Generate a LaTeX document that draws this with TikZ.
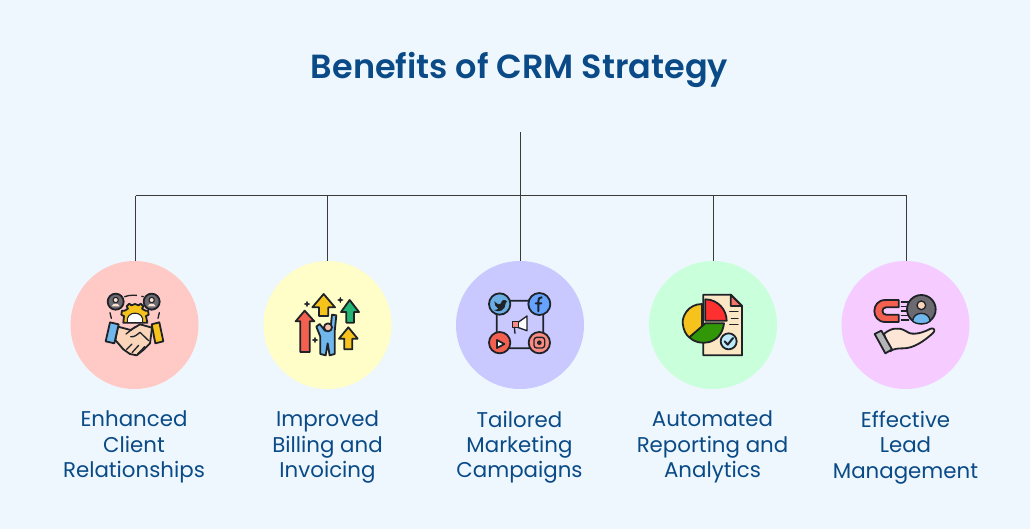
\documentclass[tikz,border=0pt]{standalone}
\usepackage{fontspec}
\setmainfont{Poppins}
\usetikzlibrary{calc}
\definecolor{bgc}{HTML}{EEF7FE}
\definecolor{titlec}{HTML}{0A4A86}
\definecolor{linec}{HTML}{3A3A3A}
\definecolor{ink}{HTML}{1F2328}
\definecolor{cA}{HTML}{FFC9C5}
\definecolor{cB}{HTML}{FFFDC8}
\definecolor{cC}{HTML}{C9C8FF}
\definecolor{cD}{HTML}{C9FFDB}
\definecolor{cE}{HTML}{F6CBFF}
\definecolor{yel}{HTML}{F6C21C}
\definecolor{red1}{HTML}{F4604F}
\definecolor{grn}{HTML}{22B573}
\definecolor{blu}{HTML}{6FB7EC}
\definecolor{peach}{HTML}{FBD5BA}
\definecolor{gry}{HTML}{6C6A70}
\tikzset{
  disc/.style={circle,minimum size=96pt,inner sep=0pt,draw=none},
  lbl/.style={align=center,text=titlec,font=\fontsize{16pt}{19.1pt}\selectfont,anchor=north,inner sep=0pt},
  conn/.style={draw=linec,line width=0.8pt},
  ic/.style={draw=ink,line width=1.35pt,line join=round,line cap=round},
  icon/.style={shift={(#1)},x=0.25pt,y=-0.25pt}
}
\begin{document}
\begin{tikzpicture}[x=0.75pt,y=-0.75pt]
\fill[bgc] (0,0) rectangle (1030,529);
\useasboundingbox (0,0) rectangle (1030,529);
\node[text=titlec,font=\fontsize{25.1pt}{30pt}\selectfont\fontspec{Poppins SemiBold},inner sep=0pt] (title) at (519.5,69.5) {Benefits of CRM Strategy};
\node[disc,fill=cA] (a) at (134.5,325) {};
\node[disc,fill=cB] (b) at (327.5,325) {};
\node[disc,fill=cC] (c) at (520,325) {};
\node[disc,fill=cD] (d) at (713,325) {};
\node[disc,fill=cE] (e) at (905.5,325) {};
\coordinate (top) at (520.5,132);
\coordinate (hub) at (520.5,195.5);
\coordinate (ha) at (135.5,195.5);
\coordinate (hb) at (327.5,195.5);
\coordinate (hd) at (713.5,195.5);
\coordinate (he) at (906.5,195.5);
\draw[conn] (top) -- (hub);
\draw[conn] (ha) -- (he);
\draw[conn] (ha) -- (ha |- a.north);
\draw[conn] (hb) -- (b.north);
\draw[conn] (hub) -- (hub |- c.north);
\draw[conn] (hd) -- (hd |- d.north);
\draw[conn] (he) -- (he |- e.north);
\node[lbl] (la) at (134,410.5) {Enhanced\\Client\\Relationships};
\node[lbl] (lb) at (327.5,410.5) {Improved\\Billing and\\Invoicing};
\node[lbl] (lc) at (519.5,410.5) {Tailored\\Marketing\\Campaigns};
\node[lbl] (ld) at (712.5,410.5) {Automated\\Reporting and\\Analytics};
\node[lbl] (le) at (905.5,410.5) {Effective\\Lead\\Management};
% icon 1: handshake
\begin{scope}[icon={90,280}]
\draw[ic,dash pattern=on 9pt off 4pt,line width=1pt] (104,50) .. controls (120,44) and (140,44) .. (160,50);
\draw[ic,line width=1pt] (60,98) -- (64,115) (208,98) -- (204,115);
\foreach \cx in {77,185}{
  \draw[ic,fill=gry] (\cx,65) circle (24);
  \fill[peach!70!white] (\cx,60) circle (8);
  \fill[peach!70!white] (\cx-12,79) .. controls (\cx-8,68) and (\cx+8,68) .. (\cx+12,79) -- cycle;
  \draw[ic,line width=0.8pt] (\cx,60) circle (8);
}
\draw[ic,fill=yel] (135,72) -- (146,76) -- (152,71) -- (160,79) -- (156,86) -- (166,92) -- (174,92) -- (176,104) -- (168,108) -- (172,128) -- (100,128) -- (102,108) -- (94,104) -- (96,92) -- (104,92) -- (114,86) -- (110,79) -- (118,71) -- (124,76) -- cycle;
\fill[white,draw=ink,line width=0.8pt] (112,128) .. controls (104,90) and (166,90) .. (158,128) -- cycle;
\draw[ic,fill=peach] (84,140) -- (122,150) -- (150,133) -- (186,143) -- (180,190) -- (160,210) -- (140,226) -- (120,222) -- (100,208) -- (76,180) -- cycle;
\draw[ic,line width=1pt] (108,162) -- (136,140) (122,170) .. controls (132,172) and (140,165) .. (150,157) -- (176,182) (110,208) -- (126,192) (126,218) -- (146,196) (143,222) -- (164,200);
\draw[ic,fill=blu] (60,127) -- (86,133) -- (73,190) -- (47,184) -- cycle;
\draw[ic,fill=yel] (185,133) -- (208,127) -- (220,184) -- (196,190) -- cycle;
\end{scope}
% icon 2: arrows
\begin{scope}[icon={283,280}]
\draw[ic,fill=red1] (65,92) -- (94,124) -- (80,124) -- (80,216) -- (52,216) -- (52,124) -- (38,124) -- cycle;
\draw[ic,fill=yel] (122,42) -- (156,82) -- (136,82) -- (136,108) -- (108,108) -- (108,82) -- (88,82) -- cycle;
\draw[ic,fill=grn] (200,60) -- (228,96) -- (213,96) -- (213,128) -- (190,128) -- (190,96) -- (174,96) -- cycle;
\draw[ic,fill=yel] (196,142) -- (224,176) -- (208,176) -- (208,208) -- (184,208) -- (184,176) -- (168,176) -- cycle;
\draw[ic,fill=blu] (147,104) -- (160,106) -- (155,155) -- (155,222) -- (140,226) -- (134,190) -- (128,226) -- (112,222) -- (112,170) -- (100,140) -- (110,132) -- (126,152) -- (142,150) -- cycle;
\draw[ic,fill=peach!60!red1!70!white] (135,142) circle (12);
\foreach \sx/\sy in {72/72,172/60,96/180}{
  \draw[ic,fill=ink,line width=0.5pt] (\sx,\sy-8) -- (\sx+2,\sy-2) -- (\sx+8,\sy) -- (\sx+2,\sy+2) -- (\sx,\sy+8) -- (\sx-2,\sy+2) -- (\sx-8,\sy) -- (\sx-2,\sy-2) -- cycle;
}
\end{scope}
% icon 3: social
\begin{scope}[icon={475,280}]
\draw[ic,rounded corners=6pt] (65,62) rectangle (205,205);
\draw[ic,fill=cyan!70!blue!60!white] (74,72) circle (32);
\draw[ic,fill=blue!60!cyan!60!white] (193,72) circle (33);
\draw[ic,fill=red1] (74,188) circle (32);
\draw[ic,fill=red1!55!pink] (193,188) circle (32);
\fill[ink] (58,64) .. controls (70,76) and (76,74) .. (78,70) .. controls (78,60) and (90,56) .. (96,64) -- (92,70) .. controls (92,90) and (72,100) .. (56,90) .. controls (66,90) and (70,86) .. (70,86) .. controls (62,82) and (58,74) .. (58,64) -- cycle;
\draw[ic,line width=1.5pt] (200,52) .. controls (192,50) and (190,58) .. (190,64) -- (190,94) (182,70) -- (199,70);
\draw[ic,fill=white] (66,180) -- (88,192) -- (66,204) -- cycle;
\draw[ic,line width=1pt,rounded corners=2pt] (177,172) rectangle (209,204);
\fill[ink] (193,188) circle (7);
\draw[ic,fill=white,line width=1pt] (128,128) -- (156,108) -- (156,152) -- (128,142) -- cycle;
\draw[ic,fill=red1!55!pink,line width=1pt] (112,124) rectangle (130,142);
\draw[ic,line width=1pt] (118,142) -- (120,160);
\end{scope}
% icon 4: report
\begin{scope}[icon={668,280}]
\draw[ic,fill=peach!70!yel!50!white] (106,44) -- (188,44) -- (222,78) -- (222,226) -- (106,226) -- cycle;
\draw[ic,fill=red1!80!pink] (188,44) -- (222,78) -- (188,78) -- cycle;
\draw[ic,fill=yel] (102,72) .. controls (60,72) and (42,110) .. (44,130) .. controls (46,150) and (54,165) .. (64,172) -- (102,142) -- cycle;
\draw[ic,fill=green!55!black!80!yel] (64,172) .. controls (90,200) and (160,196) .. (168,130) -- (112,130) -- cycle;
\draw[ic,fill=red!75!pink] (112,58) .. controls (150,58) and (176,90) .. (176,122) -- (112,122) -- cycle;
\draw[ic,line width=1pt] (185,95) -- (210,95) (190,115) -- (210,115) (185,133) -- (210,133);
\draw[ic,fill=cyan!25!white] (182,184) circle (24);
\draw[ic,line width=1.5pt] (170,184) -- (179,194) -- (195,174);
\end{scope}
% icon 5: magnet and hand
\begin{scope}[icon={860,280}]
\draw[ic,fill=red1] (116,60) -- (76,60) .. controls (32,60) and (32,126) .. (76,126) -- (116,126) -- (116,104) -- (78,104) .. controls (64,104) and (64,82) .. (78,82) -- (116,82) -- cycle;
\draw[ic,line width=1pt] (124,66) -- (146,66) (124,80) -- (142,80) (124,93) -- (140,93) (124,106) -- (142,106) (124,120) -- (146,120);
\draw[ic,fill=gry] (184,88) circle (43);
\draw[ic,fill=peach,line width=1pt] (184,76) circle (13);
\draw[ic,fill=blu,line width=1pt] (158,124) .. controls (158,92) and (210,92) .. (210,124) .. controls (200,134) and (168,134) .. (158,124) -- cycle;
\draw[ic,fill=peach!60!white] (72,162) .. controls (90,145) and (115,140) .. (135,152) .. controls (150,165) and (175,165) .. (212,146) .. controls (222,142) and (228,152) .. (218,160) .. controls (190,185) and (160,205) .. (130,205) .. controls (115,205) and (100,206) .. (90,214) -- cycle;
\draw[ic,fill=gry!50!white] (44,162) -- (64,152) -- (96,208) -- (76,220) -- cycle;
\end{scope}
\end{tikzpicture}
\end{document}
